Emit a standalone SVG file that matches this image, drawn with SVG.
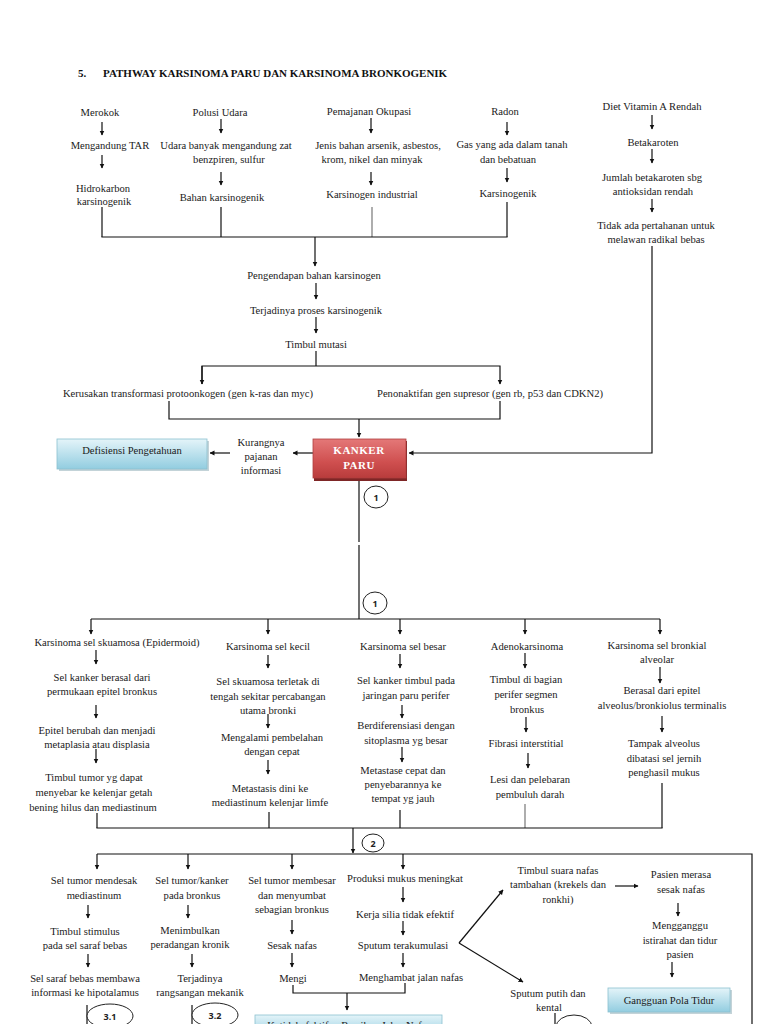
<svg xmlns="http://www.w3.org/2000/svg" width="768" height="1024" viewBox="0 0 768 1024">
<defs>
<style>
.t{font-family:"Liberation Serif","Times New Roman",serif;font-size:10.6px;fill:#1a1a1a;text-anchor:middle}
.ti{font-family:"Liberation Serif","Times New Roman",serif;font-size:11px;font-weight:bold;fill:#111}
.kp{font-family:"Liberation Serif","Times New Roman",serif;font-size:11px;font-weight:bold;fill:#fff;text-anchor:middle;letter-spacing:0.5px}
.cn{font-family:"Open Sans","DejaVu Sans",sans-serif;font-size:9px;font-weight:bold;fill:#222;text-anchor:middle}
.ln{fill:none;stroke:#111;stroke-width:1.2}
.lg{fill:none;stroke:#777;stroke-width:1.2}
.ar{fill:none;stroke:#111;stroke-width:1.2;marker-end:url(#ah)}
.ci{fill:#fff;stroke:#222;stroke-width:1}
</style>
<marker id="ah" viewBox="0 0 10 10" refX="9" refY="5" markerWidth="5" markerHeight="5.5" orient="auto" markerUnits="userSpaceOnUse">
<path d="M0,0 L10,5 L0,10 z" fill="#111"/>
</marker>
<linearGradient id="blue" x1="0" y1="0" x2="0" y2="1">
<stop offset="0" stop-color="#e4f4f9"/>
<stop offset="1" stop-color="#92cde0"/>
</linearGradient>
<linearGradient id="red" x1="0" y1="0" x2="0" y2="1">
<stop offset="0" stop-color="#e47878"/>
<stop offset="0.6" stop-color="#cf4f4f"/>
<stop offset="1" stop-color="#b83c3c"/>
</linearGradient>
</defs>
<rect width="768" height="1024" fill="#fff"/>

<g id="title">
<text x="78" y="77" class="ti">5.</text>
<text x="103" y="77" class="ti">PATHWAY KARSINOMA PARU DAN KARSINOMA BRONKOGENIK</text>
</g>

<g id="connectors">
<!-- col1 -->
<line class="ar" x1="102" y1="122" x2="102" y2="135"/>
<line class="ar" x1="102" y1="155" x2="102" y2="168"/>
<line class="ln" x1="102" y1="207" x2="102" y2="237"/>
<!-- col2 -->
<line class="ar" x1="221" y1="119" x2="221" y2="133"/>
<line class="ar" x1="221" y1="172" x2="221" y2="185"/>
<line class="ln" x1="221" y1="207" x2="221" y2="237"/>
<!-- col3 -->
<line class="ar" x1="371" y1="118" x2="371" y2="133"/>
<line class="ar" x1="371" y1="172" x2="371" y2="185"/>
<line class="lg" x1="372" y1="207" x2="372" y2="237"/>
<!-- col4 -->
<line class="ar" x1="507" y1="122" x2="507" y2="135"/>
<line class="ar" x1="507" y1="168" x2="507" y2="182"/>
<line class="ln" x1="507" y1="202" x2="507" y2="237"/>
<line class="ln" x1="101.4" y1="237" x2="507.6" y2="237"/>
<line class="ar" x1="315" y1="237" x2="315" y2="266"/>
<!-- col5 -->
<line class="ar" x1="652" y1="115" x2="652" y2="129"/>
<line class="ar" x1="652" y1="149" x2="652" y2="163"/>
<line class="ar" x1="652" y1="199" x2="652" y2="212"/>
<polyline class="ar" points="652,246 652,453 409,453"/>
<!-- middle -->
<line class="ar" x1="316" y1="283" x2="316" y2="299"/>
<line class="ar" x1="316" y1="317" x2="316" y2="333"/>
<line class="ln" x1="316" y1="351" x2="316" y2="366"/>
<polyline class="ar" points="202,384 202,366 500,366 500,384"/>
<line class="ar" x1="202" y1="366" x2="202" y2="384"/>
<polyline class="ln" points="169,401 169,419 500,419 500,401"/>
<line class="ar" x1="359" y1="419" x2="359" y2="437"/>
<line class="ar" x1="313" y1="453" x2="293" y2="453"/>
<line class="ar" x1="230" y1="453" x2="210" y2="453"/>
<line class="ln" x1="359" y1="480" x2="359" y2="542"/>
<line class="ln" x1="359" y1="545" x2="359" y2="619"/>
<!-- branch 1 -->
<line class="ln" x1="91" y1="619" x2="660" y2="619"/>
<line class="ar" x1="91" y1="619" x2="91" y2="634"/>
<line class="ar" x1="268" y1="619" x2="268" y2="634"/>
<line class="ar" x1="400" y1="619" x2="400" y2="634"/>
<line class="ar" x1="525" y1="619" x2="525" y2="634"/>
<line class="ar" x1="660" y1="619" x2="660" y2="634"/>
<!-- col A -->
<line class="ar" x1="96" y1="650" x2="96" y2="664"/>
<line class="ar" x1="96" y1="705" x2="96" y2="718"/>
<line class="ar" x1="96" y1="749" x2="96" y2="763"/>
<line class="ln" x1="97" y1="813" x2="97" y2="828"/>
<!-- col B -->
<line class="ar" x1="268" y1="655" x2="268" y2="668"/>
<line class="ar" x1="268" y1="714" x2="268" y2="728"/>
<line class="ar" x1="268" y1="760" x2="268" y2="774"/>
<line class="ln" x1="269" y1="812" x2="269" y2="828"/>
<!-- col C -->
<line class="ar" x1="400" y1="654" x2="400" y2="668"/>
<line class="ar" x1="402" y1="705" x2="402" y2="718"/>
<line class="ar" x1="402" y1="747" x2="402" y2="762"/>
<line class="ln" x1="400" y1="810" x2="400" y2="828"/>
<!-- col D -->
<line class="ar" x1="525" y1="653" x2="525" y2="668"/>
<line class="ar" x1="526" y1="717" x2="526" y2="732"/>
<line class="ar" x1="528" y1="753" x2="528" y2="768"/>
<line class="lg" x1="525" y1="804" x2="525" y2="828"/>
<!-- col E -->
<line class="ar" x1="660" y1="667" x2="660" y2="683"/>
<line class="ar" x1="662" y1="716" x2="662" y2="732"/>
<line class="ln" x1="662" y1="783" x2="662" y2="828"/>
<line class="ln" x1="96.4" y1="828" x2="662.6" y2="828"/>
<line class="ar" x1="353" y1="828" x2="353" y2="853"/>
<!-- branch 2 -->
<polyline class="ln" points="97,854 752,854 752,1024"/>
<line class="ar" x1="97" y1="854" x2="97" y2="869"/>
<line class="ar" x1="188" y1="854" x2="188" y2="869"/>
<line class="ar" x1="292" y1="854" x2="292" y2="869"/>
<line class="ar" x1="403" y1="854" x2="403" y2="869"/>
<!-- col F -->
<line class="ar" x1="88" y1="905" x2="88" y2="918"/>
<line class="ar" x1="88" y1="954" x2="88" y2="967"/>
<line class="ln" x1="87" y1="1005" x2="87" y2="1024"/>
<!-- col G -->
<line class="ar" x1="188" y1="905" x2="188" y2="918"/>
<line class="ar" x1="192" y1="954" x2="192" y2="967"/>
<line class="ln" x1="192" y1="1005" x2="192" y2="1024"/>
<!-- col H -->
<line class="ar" x1="292" y1="920" x2="292" y2="934"/>
<line class="ar" x1="292" y1="953" x2="292" y2="967"/>
<polyline class="ln" points="293,985 293,993 405,993 405,983"/>
<line class="ar" x1="347" y1="993" x2="347" y2="1010"/>
<!-- col I -->
<line class="ar" x1="403" y1="887" x2="403" y2="902"/>
<line class="ar" x1="403" y1="921" x2="403" y2="935"/>
<line class="ar" x1="403" y1="953" x2="403" y2="967"/>
<line class="ar" x1="459" y1="943" x2="503" y2="890"/>
<line class="ar" x1="459" y1="943" x2="523" y2="982"/>
<!-- col J -->
<line class="ar" x1="615" y1="886" x2="638" y2="886"/>
<line class="ar" x1="678" y1="903" x2="678" y2="916"/>
<line class="ar" x1="672" y1="962" x2="672" y2="977"/>
<line class="ln" x1="555" y1="1013" x2="555" y2="1024"/>
</g>

<g id="n-merokok"><text class="t" x="100" y="115.5">Merokok</text></g>
<g id="n-tar"><text class="t" x="110" y="148.5">Mengandung TAR</text></g>
<g id="n-hidrokarbon"><text class="t" x="103" y="191.5">Hidrokarbon</text><text class="t" x="104" y="205">karsinogenik</text></g>

<g id="n-polusi"><text class="t" x="220" y="115.5">Polusi Udara</text></g>
<g id="n-udara"><text class="t" x="226" y="148.5">Udara banyak mengandung zat</text><text class="t" x="229" y="162.5">benzpiren, sulfur</text></g>
<g id="n-bahan"><text class="t" x="222" y="200.5">Bahan karsinogenik</text></g>

<g id="n-okupasi"><text class="t" x="369" y="114.5">Pemajanan Okupasi</text></g>
<g id="n-jenis"><text class="t" x="378" y="148.5">Jenis bahan arsenik, asbestos,</text><text class="t" x="372" y="162.5">krom, nikel dan minyak</text></g>
<g id="n-industrial"><text class="t" x="372" y="198">Karsinogen industrial</text></g>

<g id="n-radon"><text class="t" x="505" y="114.5">Radon</text></g>
<g id="n-gas"><text class="t" x="512" y="147.5">Gas yang ada dalam tanah</text><text class="t" x="508" y="163">dan bebatuan</text></g>
<g id="n-karsinogenik"><text class="t" x="508" y="196.5">Karsinogenik</text></g>

<g id="n-diet"><text class="t" x="652" y="109.5">Diet Vitamin A Rendah</text></g>
<g id="n-betakaroten"><text class="t" x="653" y="145.5">Betakaroten</text></g>
<g id="n-jumlah"><text class="t" x="652" y="180.5">Jumlah betakaroten sbg</text><text class="t" x="653" y="195">antioksidan rendah</text></g>
<g id="n-tidakada"><text class="t" x="656" y="228.5">Tidak ada pertahanan untuk</text><text class="t" x="656" y="242.5">melawan radikal bebas</text></g>

<g id="n-pengendapan"><text class="t" x="314" y="278.5">Pengendapan bahan karsinogen</text></g>
<g id="n-proses"><text class="t" x="316" y="313.5">Terjadinya proses karsinogenik</text></g>
<g id="n-mutasi"><text class="t" x="316" y="347.5">Timbul mutasi</text></g>
<g id="n-kerusakan"><text class="t" x="188" y="396.5">Kerusakan transformasi protoonkogen (gen k-ras dan myc)</text></g>
<g id="n-penonaktifan"><text class="t" x="490" y="396.5">Penonaktifan gen supresor (gen rb, p53 dan CDKN2)</text></g>

<g id="n-kanker">
<rect x="314" y="441" width="93" height="40" fill="#7e2626"/>
<rect x="313" y="439" width="93" height="39" fill="url(#red)" stroke="#b04040" stroke-width="0.8"/>
<text class="kp" x="359" y="454">KANKER</text>
<text class="kp" x="359" y="469">PARU</text>
</g>
<g id="n-kurangnya"><text class="t" x="261" y="445.5">Kurangnya</text><text class="t" x="261" y="459.5">pajanan</text><text class="t" x="261" y="473.5">informasi</text></g>
<g id="n-defisiensi">
<rect x="59" y="441" width="150" height="30" fill="#c3d3d8"/>
<rect x="57" y="439" width="150" height="30" fill="url(#blue)" stroke="#8cc0cf" stroke-width="0.8"/>
<text class="t" x="132" y="454">Defisiensi Pengetahuan</text>
</g>
<g id="c1a"><ellipse class="ci" cx="376" cy="497" rx="12" ry="11"/><text class="cn" x="376" y="500.5">1</text></g>
<g id="c1b"><ellipse class="ci" cx="375" cy="603" rx="12" ry="11"/><text class="cn" x="375" y="606.5">1</text></g>

<g id="n-skuamosa"><text class="t" x="117" y="645.5">Karsinoma sel skuamosa (Epidermoid)</text></g>
<g id="n-a1"><text class="t" x="102" y="680.5">Sel kanker berasal dari</text><text class="t" x="102" y="694.5">permukaan epitel bronkus</text></g>
<g id="n-a2"><text class="t" x="97" y="733.5">Epitel berubah dan menjadi</text><text class="t" x="97" y="747.5">metaplasia atau displasia</text></g>
<g id="n-a3"><text class="t" x="94" y="780.5">Timbul tumor yg dapat</text><text class="t" x="94" y="795.5">menyebar ke kelenjar getah</text><text class="t" x="93" y="810.5">bening hilus dan mediastinum</text></g>

<g id="n-kecil"><text class="t" x="268" y="649.5">Karsinoma sel kecil</text></g>
<g id="n-b1"><text class="t" x="268" y="684.5">Sel skuamosa terletak di</text><text class="t" x="268" y="699.5">tengah sekitar percabangan</text><text class="t" x="268" y="713.5">utama bronki</text></g>
<g id="n-b2"><text class="t" x="272" y="740.5">Mengalami pembelahan</text><text class="t" x="272" y="754.5">dengan cepat</text></g>
<g id="n-b3"><text class="t" x="270" y="791.5">Metastasis dini ke</text><text class="t" x="270" y="805.5">mediastinum kelenjar limfe</text></g>

<g id="n-besar"><text class="t" x="403" y="649.5">Karsinoma sel besar</text></g>
<g id="n-c1"><text class="t" x="406" y="683.5">Sel kanker timbul pada</text><text class="t" x="406" y="698.5">jaringan paru perifer</text></g>
<g id="n-c2"><text class="t" x="406" y="728.5">Berdiferensiasi dengan</text><text class="t" x="406" y="743.5">sitoplasma yg besar</text></g>
<g id="n-c3"><text class="t" x="403" y="773.5">Metastase cepat dan</text><text class="t" x="403" y="787.5">penyebarannya ke</text><text class="t" x="403" y="801.5">tempat yg jauh</text></g>

<g id="n-adeno"><text class="t" x="527" y="649.5">Adenokarsinoma</text></g>
<g id="n-d1"><text class="t" x="526" y="682.5">Timbul di bagian</text><text class="t" x="526" y="697.5">perifer segmen</text><text class="t" x="527" y="712.5">bronkus</text></g>
<g id="n-d2"><text class="t" x="526" y="746.5">Fibrasi interstitial</text></g>
<g id="n-d3"><text class="t" x="530" y="782.5">Lesi dan pelebaran</text><text class="t" x="530" y="797.5">pembuluh darah</text></g>

<g id="n-bronkial"><text class="t" x="657" y="648.5">Karsinoma sel bronkial</text><text class="t" x="657" y="662.5">alveolar</text></g>
<g id="n-e1"><text class="t" x="662" y="693.5">Berasal dari epitel</text><text class="t" x="662" y="708.5">alveolus/bronkiolus terminalis</text></g>
<g id="n-e2"><text class="t" x="664" y="746.5">Tampak alveolus</text><text class="t" x="664" y="761.5">dibatasi sel jernih</text><text class="t" x="664" y="775.5">penghasil mukus</text></g>

<g id="c2"><ellipse class="ci" cx="373" cy="843" rx="11" ry="9"/><text class="cn" x="373" y="846.5">2</text></g>

<g id="n-f1"><text class="t" x="94" y="883.5">Sel tumor mendesak</text><text class="t" x="94" y="898.5">mediastinum</text></g>
<g id="n-f2"><text class="t" x="85" y="934.5">Timbul stimulus</text><text class="t" x="85" y="948.5">pada sel saraf bebas</text></g>
<g id="n-f3"><text class="t" x="85" y="981.5">Sel saraf bebas membawa</text><text class="t" x="85" y="995.5">informasi ke hipotalamus</text></g>
<g id="c31"><ellipse class="ci" cx="110" cy="1016" rx="23" ry="12"/><text class="cn" x="110" y="1019.5">3.1</text></g>

<g id="n-g1"><text class="t" x="192" y="883.5">Sel tumor/kanker</text><text class="t" x="192" y="898.5">pada bronkus</text></g>
<g id="n-g2"><text class="t" x="190" y="933.5">Menimbulkan</text><text class="t" x="190" y="947.5">peradangan kronik</text></g>
<g id="n-g3"><text class="t" x="200" y="981.5">Terjadinya</text><text class="t" x="200" y="995.5">rangsangan mekanik</text></g>
<g id="c32"><ellipse class="ci" cx="215" cy="1015" rx="23" ry="12"/><text class="cn" x="215" y="1018.5">3.2</text></g>

<g id="n-h1"><text class="t" x="292" y="883.5">Sel tumor membesar</text><text class="t" x="292" y="898.5">dan menyumbat</text><text class="t" x="292" y="912.5">sebagian bronkus</text></g>
<g id="n-h2"><text class="t" x="292" y="948.5">Sesak nafas</text></g>
<g id="n-h3"><text class="t" x="293" y="981.5">Mengi</text></g>

<g id="n-i1"><text class="t" x="405" y="881.5">Produksi mukus meningkat</text></g>
<g id="n-i2"><text class="t" x="405" y="917.5">Kerja silia tidak efektif</text></g>
<g id="n-i3"><text class="t" x="403" y="948.5">Sputum terakumulasi</text></g>
<g id="n-i4"><text class="t" x="411" y="980.5">Menghambat jalan nafas</text></g>

<g id="n-ketidak">
<rect x="255" y="1015" width="187" height="22" fill="url(#blue)" stroke="#8cc0cf" stroke-width="0.8"/>
<text class="t" x="349" y="1029">Ketidakefektifan Bersihan Jalan Nafas</text>
</g>

<g id="n-j1"><text class="t" x="558" y="873.5">Timbul suara nafas</text><text class="t" x="558" y="887.5">tambahan (krekels dan</text><text class="t" x="558" y="902.5">ronkhi)</text></g>
<g id="n-j2"><text class="t" x="681" y="877.5">Pasien merasa</text><text class="t" x="681" y="892.5">sesak nafas</text></g>
<g id="n-j3"><text class="t" x="680" y="928.5">Mengganggu</text><text class="t" x="680" y="943.5">istirahat dan tidur</text><text class="t" x="680" y="957.5">pasien</text></g>
<g id="n-gangguan">
<rect x="610" y="990" width="122" height="24" fill="#c3d3d8"/>
<rect x="608" y="988" width="122" height="24" fill="url(#blue)" stroke="#8cc0cf" stroke-width="0.8"/>
<text class="t" x="669" y="1003.5">Gangguan Pola Tidur</text>
</g>
<g id="n-sputum"><text class="t" x="548" y="996.5">Sputum putih dan</text><text class="t" x="549" y="1010.5">kental</text></g>
<g id="c-bottom"><ellipse class="ci" cx="574" cy="1027" rx="18" ry="12"/></g>
</svg>
